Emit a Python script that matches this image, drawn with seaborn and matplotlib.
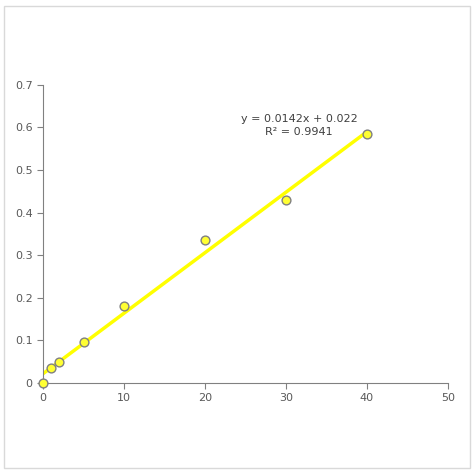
import matplotlib
matplotlib.use("Agg")
from matplotlib import pyplot as plt
from matplotlib.patches import Rectangle
import seaborn as sns
import numpy as np

# concentration vs absorbance points
x_vals = [0, 1, 2, 5, 10, 20, 30, 40]
y_vals = [0.0, 0.035, 0.05, 0.097, 0.18, 0.335, 0.43, 0.585]
slope = 0.0142
intercept = 0.022
fit_x = [0, 40]
eq_text = "y = 0.0142x + 0.022\nR² = 0.9941"

sns.set_style("white")
plt.rcParams["font.family"] = ["DejaVu Sans"]

fig = plt.figure(figsize=(4.74, 4.74), dpi=100)
fig.patches.append(Rectangle((0.008, 0.012), 0.984, 0.976, transform=fig.transFigure,
                             fill=False, edgecolor="#d9d9d9", linewidth=1))
ax = fig.add_axes([0.091, 0.192, 0.854, 0.629])

fx = np.array(fit_x)
sns.lineplot(x=fx, y=slope * fx + intercept, ax=ax, color="#ffff00", linewidth=2.5)
sns.scatterplot(x=x_vals, y=y_vals, ax=ax, s=40, color="#ffff33", edgecolor="#808080",
                linewidth=1, zorder=3, clip_on=False)

ax.set_xlim(0, 50)
ax.set_ylim(0, 0.7)
ax.set_xticks(range(0, 51, 10))
ax.set_yticks(np.arange(0, 0.71, 0.1))
ax.set_yticklabels(["0", "0.1", "0.2", "0.3", "0.4", "0.5", "0.6", "0.7"])
for s in ["top", "right"]:
    ax.spines[s].set_visible(False)
for s in ["left", "bottom"]:
    ax.spines[s].set_color("#808080")
ax.tick_params(axis="both", direction="out", length=4, color="#808080",
               labelsize=8, labelcolor="#595959", bottom=True, left=True)

ax.text(38.8, 0.578, eq_text, ha="right", va="bottom", fontsize=8, color="#404040",
        multialignment="center", linespacing=1.3)

fig.savefig("out.png", dpi=100)
